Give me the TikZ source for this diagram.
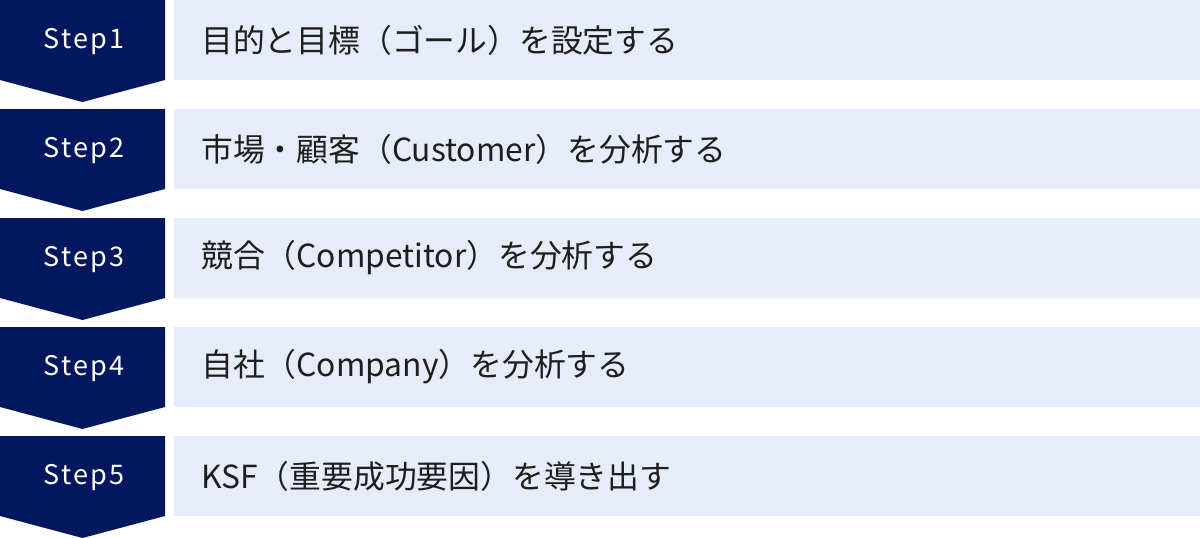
\documentclass[tikz,border=0pt]{standalone}
\usepackage{fontspec}
\setmainfont{Noto Sans CJK JP}
\definecolor{navy}{HTML}{03175F}
\definecolor{barblue}{HTML}{E6ECF9}
\definecolor{txt}{HTML}{1E1E1E}
\tikzset{
  chev/.style={fill=navy},
  bar/.style={fill=barblue},
  steplabel/.style={text=white,font=\fontsize{27}{30}\selectfont\addfontfeature{LetterSpace=8},inner sep=0pt,anchor=center},
  desc/.style={text=txt,font=\fontsize{31.8}{36}\selectfont,inner sep=0pt,anchor=west}
}
\begin{document}
\begin{tikzpicture}[x=1pt,y=-1pt]
\useasboundingbox (0,0) rectangle (1200,538);
\foreach \i/\t in {1/{目的と目標（ゴール）を設定する},2/{市場・顧客（Customer）を分析する},3/{競合（Competitor）を分析する},4/{自社（Company）を分析する},5/{KSF（重要成功要因）を導き出す}}{
  \pgfmathsetmacro{\y}{(\i-1)*109}
  \fill[chev] (0,\y) -- (165,\y) -- (165,\y+80) -- (82.5,\y+102) -- (0,\y+80) -- cycle;
  \fill[bar] (174,\y) rectangle (1200,\y+80);
  \node[steplabel] (s\i) at (84,\y+42) {Step\i};
  \node[desc] (d\i) at (201,\y+40) {\t};
}
\end{tikzpicture}
\end{document}
